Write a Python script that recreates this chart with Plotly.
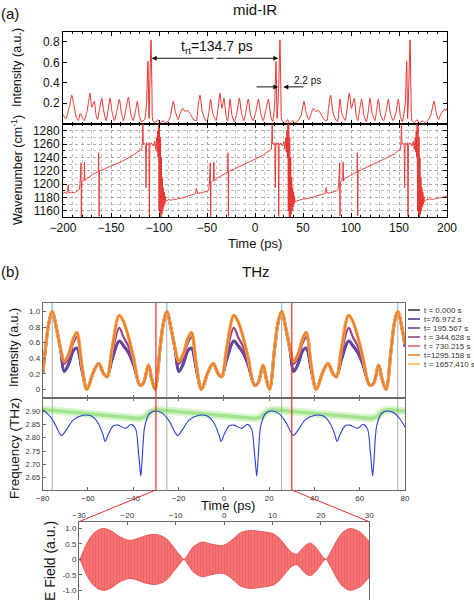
import plotly.graph_objects as go

# %% data

# (a) mid-IR intensity vs time (ps)
ir_t = [-200, -197, -193, -191, -189, -186, -184, -182, -180, -178, -175, -173, -171.9, -170,
        -167.4, -165.5, -164, -162, -159.7, -157.5, -155, -153, -151, -149, -146.5, -144,
        -141.3, -139, -137, -134.5, -131.9, -129.5, -127, -124.5, -122.6, -120.5, -118.5,
        -115, -113, -111.5, -110.4, -109.5, -108.3, -107.3, -106.5, -104, -101, -99, -96,
        -93, -90, -88, -85.1, -83, -80, -78, -75.3, -73, -70, -67, -64, -61, -59.5, -57.3,
        -55, -52, -50, -48, -46.2, -44, -40.5, -38.5, -36.5, -34.5, -32.3, -30, -28.5, -26,
        -24, -21.5, -19, -16.3, -14, -11.5, -9.5, -7, -4.5, -2, 1, 3.5, 6, 8.5, 11, 13.9,
        16.5, 18.5, 20.5, 21.9, 23, 24.8, 26, 27, 28, 31, 34, 36, 39, 42, 45, 48, 51, 53,
        56, 58.5, 60.8, 63, 66, 69, 72, 75, 76.5, 78.8, 81, 84, 86, 88.5, 90.5, 94, 96,
        98.3, 100.5, 103.5, 105.5, 107, 109, 111.1, 113.5, 116, 118, 119.8, 122, 125, 126.5,
        128.5, 131, 134, 136.5, 138.9, 141, 144, 147, 149.3, 151.5, 153.5, 156.5, 158, 159,
        160.3, 161.5, 162.5, 163.5, 166, 169, 171, 174, 177, 180, 183, 186.5, 188.5, 191,
        194, 197, 199, 200]
ir_int = [0.09, 0.05, 0.18, 0.28, 0.20, 0.06, 0.03, 0.10, 0.06, 0.03, 0.12, 0.24, 0.30, 0.16,
          0.22, 0.08, 0.04, 0.14, 0.25, 0.12, 0.03, 0.14, 0.25, 0.12, 0.03, 0.12,
          0.24, 0.10, 0.03, 0.14, 0.26, 0.10, 0.03, 0.12, 0.22, 0.08, 0.02,
          0.04, 0.20, 0.61, 0.05, 0.40, 0.82, 0.30, 0.03, 0.01, 0.04, 0.00, 0.03,
          0.01, 0.03, 0.08, 0.22, 0.12, 0.04, 0.10, 0.15, 0.12, 0.13, 0.09, 0.04, 0.03, 0.15, 0.28,
          0.12, 0.04, 0.02, 0.12, 0.24, 0.10, 0.03, 0.15, 0.30, 0.15, 0.25, 0.07, 0.03, 0.24,
          0.08, 0.02, 0.10, 0.25, 0.10, 0.03, 0.12, 0.24, 0.08, 0.03, 0.12, 0.24, 0.10, 0.03, 0.12, 0.24,
          0.07, 0.02, 0.20, 0.61, 0.05, 0.40, 0.82, 0.30, 0.03, 0.01, 0.04, 0.00, 0.03, 0.01, 0.03, 0.08, 0.22, 0.12,
          0.04, 0.10, 0.15, 0.12, 0.13, 0.09, 0.04, 0.03, 0.15, 0.28, 0.12, 0.04, 0.02, 0.24, 0.10, 0.03, 0.15,
          0.30, 0.15, 0.25, 0.07, 0.03, 0.14, 0.24, 0.08, 0.02, 0.12, 0.25, 0.10, 0.03, 0.12,
          0.24, 0.08, 0.03, 0.12, 0.24, 0.10, 0.03, 0.12, 0.24, 0.07, 0.02, 0.20, 0.61, 0.05,
          0.40, 0.82, 0.30, 0.03, 0.01, 0.04, 0.00, 0.03, 0.01, 0.03, 0.08, 0.22, 0.12, 0.04,
          0.10, 0.14, 0.13, 0.15]

# (a) instantaneous wavenumber (cm-1) vs time (ps)
wn_t = [-200, -198, -196, -194.5, -194, -191, -188, -185, -183, -182.3, -181.2, -180.9, -180.5,
        -178, -177.6, -177.2, -175, -172, -169, -166, -163.2, -162.8, -162.4, -162, -160, -157,
        -155, -152, -150, -147, -145, -142, -140, -137, -135, -132, -130, -127, -125, -121, -118,
        -117.5, -116.8, -116.3, -115, -114, -113.5, -113, -112, -110.5, -110, -109.5, -108, -106,
        -104.5, -103.5, -102.5, -102, -101.5, -101, -100.5, -100, -99.5, -99, -98.5, -98, -97.5,
        -97, -96.5, -96, -95.5, -95, -94.5, -94, -93.5, -93,
        -90, -87, -85, -82, -80, -77, -75, -72, -70, -67, -65, -62, -61, -60, -57, -55, -52, -50,
        -48.3, -47.6, -46.5, -46.2, -45.8, -43.3, -42.9, -42.5, -40, -37, -34, -31, -28.5, -28.1,
        -27.7, -27.3, -25, -22, -20, -17, -15, -12, -10, -7, -5, -2, 0, 3, 5, 8, 10, 14, 17,
        17.2, 17.9, 18.4, 19.7, 20.7, 21.2, 21.7, 22.7, 24.2, 24.7, 25.2, 26.7, 28.7, 30.2, 31.2,
        32.2, 32.7, 33.2, 33.7, 34.2, 34.7, 35.2, 35.7, 36.2, 36.7, 37.2, 37.7, 38.2, 38.7, 39.2,
        39.7, 40.2, 40.7, 41.2, 41.7,
        45, 48, 50, 53, 55, 58, 60, 63, 65, 68, 70, 73, 74, 75, 78, 80, 83, 85,
        86.4, 87.1, 88.2, 88.5, 88.9, 91.4, 91.8, 92.2, 94, 97, 100, 103, 106.2, 106.6, 107, 107.4,
        110, 113, 115, 118, 120, 123, 125, 128, 130, 133, 135, 138, 140, 143, 145, 148, 151.5,
        151.9, 152.6, 153.1, 154.4, 155.4, 155.9, 156.4, 157.4, 158.9, 159.4, 159.9, 161.4, 163.4,
        164.9, 165.9, 166.9, 167.4, 167.9, 168.4, 168.9, 169.4, 169.9, 170.4, 170.9, 171.4, 171.9,
        172.4, 172.9, 173.4, 173.9, 174.4, 174.9, 175.4, 175.9, 176.4,
        179, 182, 185, 188, 191, 194, 197, 200]
wn_v = [1186, 1188, 1186, 1199, 1187, 1188, 1187, 1190, 1192, 1200, 1232, 1151, 1203,
        1206, 1233, 1205, 1209, 1211, 1215, 1217, 1219, 1247, 1152, 1220, 1221, 1223,
        1224, 1226, 1227, 1229, 1230, 1232, 1233, 1236, 1237, 1239, 1241, 1243, 1245, 1249, 1252,
        1258, 1290, 1260, 1261, 1258, 1195, 1262, 1259, 1262, 1152, 1258, 1262, 1257,
        1264, 1252, 1270, 1248, 1280, 1240, 1290, 1160, 1290, 1151, 1270, 1151, 1240,
        1155, 1210, 1160, 1195, 1166, 1188, 1170, 1182, 1174,
        1177, 1176, 1178, 1177, 1179, 1179, 1180, 1181, 1182, 1183, 1184, 1186, 1194, 1186, 1187, 1187, 1189, 1189,
        1192, 1200, 1232, 1151, 1203, 1206, 1233, 1205, 1209, 1211, 1214, 1216, 1218, 1247,
        1152, 1219, 1221, 1222, 1224, 1226, 1227, 1229, 1231, 1233, 1234, 1236, 1237, 1239, 1241, 1243, 1245, 1249, 1252,
        1258, 1290, 1260, 1261, 1258, 1195, 1262, 1259, 1262, 1152, 1258, 1262, 1257, 1264, 1252,
        1270, 1248, 1280, 1240, 1290, 1160, 1290, 1151, 1270, 1151, 1240, 1155, 1210, 1160, 1195,
        1166, 1188, 1170, 1182, 1174,
        1176, 1177, 1178, 1178, 1179, 1180, 1180, 1182, 1183, 1184, 1185, 1186, 1195, 1187, 1187, 1188, 1189, 1190,
        1192, 1200, 1232, 1153, 1203, 1206, 1233, 1205, 1209, 1211, 1214, 1216, 1218, 1247, 1153, 1219,
        1221, 1223, 1224, 1226, 1227, 1229, 1231, 1233, 1234, 1236, 1238, 1240, 1242, 1244, 1245, 1249, 1252,
        1258, 1290, 1260, 1261, 1258, 1195, 1262, 1259, 1262, 1152, 1258, 1262, 1257,
        1264, 1252, 1270, 1248, 1280, 1240, 1290, 1160, 1290, 1151, 1270, 1151, 1240,
        1155, 1210, 1160, 1195, 1166, 1188, 1170, 1182, 1174,
        1177, 1178, 1177, 1179, 1179, 1180, 1181, 1182]

# (b) THz intensity, three groups of nearly identical curves
thz_t = [-80, -78.8, -77.3, -75.8,
         -73.7, -72.0, -70.5, -68.6, -66.4, -64.9, -62.7, -60.5, -57.6, -55.3, -53.1, -51.6, -49.4,
         -46.2, -44.3, -42.1, -39.9, -37.0, -35.5, -33.3, -31.9, -30.4, -28.2, -26.7, -25.2,
         -23.1, -21.4, -19.9, -18.0, -15.8, -14.3, -12.1, -9.9, -7.0, -4.7, -2.5, -1.0, 1.2,
         4.4, 6.3, 8.5, 10.7, 13.6, 15.1, 17.3, 18.7, 20.2, 22.4, 23.9, 25.5,
         27.6, 29.3, 30.8, 32.7, 34.9, 36.4, 38.6, 40.8, 43.7, 46.0, 48.2, 49.7, 51.9,
         55.1, 57.0, 59.2, 61.4, 64.5, 66.2, 68.3, 69.8, 71.6, 73.9, 75.3, 76.8,
         78.9, 80]
thz_high = [0.20, 0.52, 0.85, 1.0,
            0.75, 0.51, 0.36, 0.45, 0.66, 0.73, 0.31, 0.0, 0.22, 0.33, 0.20, 0.16, 0.52,
            0.95, 0.87, 0.67, 0.41, 0.05, 0.08, 0.31, 0.14, 0.0, 0.52, 0.85, 1.0,
            0.75, 0.51, 0.36, 0.45, 0.66, 0.73, 0.31, 0.0, 0.22, 0.33, 0.20, 0.16, 0.52,
            0.95, 0.87, 0.67, 0.41, 0.05, 0.08, 0.31, 0.14, 0.0, 0.52, 0.85, 1.0,
            0.75, 0.51, 0.36, 0.45, 0.66, 0.73, 0.31, 0.0, 0.22, 0.33, 0.20, 0.16, 0.52,
            0.95, 0.87, 0.67, 0.41, 0.05, 0.08, 0.31, 0.14, 0.0, 0.52, 0.85, 1.0,
            0.75, 0.58]
thz_mid = [0.20, 0.52, 0.85, 1.0,
           0.75, 0.51, 0.33, 0.40, 0.60, 0.67, 0.29, 0.0, 0.22, 0.33, 0.20, 0.16, 0.45,
           0.79, 0.67, 0.55, 0.36, 0.05, 0.08, 0.31, 0.14, 0.0, 0.52, 0.85, 1.0,
           0.75, 0.51, 0.33, 0.40, 0.60, 0.67, 0.29, 0.0, 0.22, 0.33, 0.20, 0.16, 0.45,
           0.79, 0.67, 0.55, 0.36, 0.05, 0.08, 0.31, 0.14, 0.0, 0.52, 0.85, 1.0,
           0.75, 0.51, 0.33, 0.40, 0.60, 0.67, 0.29, 0.0, 0.22, 0.33, 0.20, 0.16, 0.45,
           0.79, 0.67, 0.55, 0.36, 0.05, 0.08, 0.31, 0.14, 0.0, 0.52, 0.85, 1.0,
           0.75, 0.57]
thz_low = [0.20, 0.52, 0.85, 1.0,
           0.75, 0.49, 0.23, 0.32, 0.50, 0.53, 0.25, 0.0, 0.22, 0.33, 0.20, 0.16, 0.38,
           0.62, 0.56, 0.47, 0.32, 0.05, 0.08, 0.31, 0.14, 0.0, 0.52, 0.85, 1.0,
           0.75, 0.49, 0.23, 0.32, 0.50, 0.53, 0.25, 0.0, 0.22, 0.33, 0.20, 0.16, 0.38,
           0.62, 0.56, 0.47, 0.32, 0.05, 0.08, 0.31, 0.14, 0.0, 0.52, 0.85, 1.0,
           0.75, 0.49, 0.23, 0.32, 0.50, 0.53, 0.25, 0.0, 0.22, 0.33, 0.20, 0.16, 0.38,
           0.62, 0.56, 0.47, 0.32, 0.05, 0.08, 0.31, 0.14, 0.0, 0.52, 0.85, 1.0,
           0.75, 0.55]

thz_labels = ["t = 0.000 s", "t=76.972 s", "t= 195.567 s", "t = 344.628 s",
              "t = 730.215 s", "t=1295.158 s", "t = 1657.410 s"]
thz_colors = ["#3b3b4c", "#443c8e", "#6e45a2", "#9b3f8b", "#e0607c", "#ee7d34", "#f6b94b"]
thz_series = ["low", "low", "low", "mid", "high", "high", "high"]

# (b) instantaneous frequency (THz)
fr_t = [-80, -78.3, -75.3, -73.1, -71.7, -69.4, -66.6, -62.2, -58.5, -55.6, -53.3, -52.4,
        -51.1, -48.9, -46.7, -43.3, -40.8, -38.9, -37.7, -37.1, -36.7, -36.3, -35.9, -34.9,
        -32.7, -30.2, -27.5,
        -24.1, -21.9, -20.5, -18.2, -15.4, -11.0, -7.3, -4.4, -2.1, -1.2, 0.1, 2.3, 4.5, 7.9,
        10.4, 12.3, 13.5, 14.1, 14.5, 14.9, 15.3, 16.3, 18.5, 21.0, 23.7,
        27.1, 29.3, 30.7, 33.0, 35.8, 40.2, 43.9, 46.8, 49.1, 50.0, 51.3, 53.5, 55.7, 59.1,
        61.6, 63.5, 64.7, 65.3, 65.7, 66.1, 66.5, 67.5, 69.7, 72.2, 74.9, 77.9, 80]
fr_v = [2.904, 2.894, 2.862, 2.825, 2.808, 2.831, 2.866, 2.884, 2.881, 2.856, 2.809, 2.786,
        2.812, 2.844, 2.847, 2.835, 2.850, 2.831, 2.744, 2.690, 2.656, 2.690, 2.744, 2.844,
        2.891, 2.900, 2.894,
        2.862, 2.825, 2.808, 2.831, 2.866, 2.884, 2.881, 2.856, 2.809, 2.786, 2.812, 2.844, 2.847, 2.835,
        2.850, 2.831, 2.744, 2.690, 2.656, 2.690, 2.744, 2.844, 2.891, 2.900, 2.894,
        2.862, 2.825, 2.808, 2.831, 2.866, 2.884, 2.881, 2.856, 2.809, 2.786, 2.812, 2.844, 2.847, 2.835,
        2.850, 2.831, 2.744, 2.690, 2.656, 2.690, 2.744, 2.844, 2.891, 2.900, 2.894, 2.869, 2.839]

# (b) green reference band
gr_t = [-80, -37.5, -35, -32, -30, 14, 16.5, 19.5, 21.5, 65, 67.5, 70.5, 72.5, 80]
gr_v = [2.906, 2.872, 2.878, 2.900, 2.905, 2.872, 2.878, 2.900, 2.905, 2.872, 2.878, 2.900, 2.905, 2.899]

# (b) pulse peaks (gray markers) and zoom window
peak_t = [-75.8, -25.2, 25.5, 76.8]
zoom_t = [-30, 30]

# (b) E field envelope, zoomed window
ef_t = [-30, -29.8, -28.4, -27.0, -25.7, -24.6, -23.2, -21.5, -19.5, -18.1, -16.0, -13.9, -11.9,
        -10.5, -9.1, -8.3, -7.4, -6.4, -4.6, -2.9, -0.2, 1.9, 3.3, 5.3, 7.4, 10.2, 11.5, 12.9,
        14.0, 15.0, 16.0, 17.0, 17.9, 19.1, 20.3, 21.0, 22.2, 23.3, 24.6, 26.0, 28.1, 29.8, 30]
ef_up = [0.0, 0.02, 0.51, 0.83, 0.97, 0.99, 0.90, 0.72, 0.61, 0.66, 0.77, 0.80, 0.66,
         0.40, 0.13, 0.0, 0.18, 0.40, 0.56, 0.50, 0.45, 0.66, 0.85, 0.93, 0.90, 0.82, 0.66, 0.40,
         0.22, 0.17, 0.32, 0.48, 0.52, 0.36, 0.10, 0.0, 0.29, 0.61, 0.88, 0.99, 0.88, 0.61, 0.58]
ef_dn = [0.0, -0.02, -0.51, -0.83, -0.97, -0.99, -0.90, -0.72, -0.61, -0.66, -0.77, -0.80, -0.66,
         -0.40, -0.13, 0.0, -0.18, -0.40, -0.56, -0.50, -0.45, -0.66, -0.85, -0.93, -0.90, -0.82, -0.66, -0.40,
         -0.22, -0.17, -0.32, -0.48, -0.52, -0.36, -0.10, 0.0, -0.29, -0.61, -0.88, -0.99, -0.88, -0.61, -0.58]

# %% layout helpers (pixel -> paper)
W, H = 474, 600


def px(x):
    return x / W


def py(y):
    return 1 - y / H


RED = "#e8302c"
FONT = "Liberation Sans, Arial, sans-serif"

fig = go.Figure()

# (a) traces
fig.add_trace(go.Scatter(x=ir_t, y=ir_int, mode="lines", xaxis="x", yaxis="y",
                         line=dict(color=RED, width=1.0, shape="spline", smoothing=0.5)))
fig.add_trace(go.Scatter(x=wn_t, y=wn_v, mode="lines", xaxis="x2", yaxis="y2",
                         line=dict(color=RED, width=0.9)))

# (b) THz intensity traces
groups = {"low": thz_low, "mid": thz_mid, "high": thz_high}
draw_order = [0, 1, 2, 3, 4, 6, 5]
widths = {0: 2.2, 1: 3.0, 2: 2.2, 3: 2.2, 4: 2.8, 6: 3.2, 5: 2.0}
for i in draw_order:
    fig.add_trace(go.Scatter(x=thz_t, y=groups[thz_series[i]], mode="lines",
                             xaxis="x3", yaxis="y3", name=thz_labels[i],
                             line=dict(color=thz_colors[i], width=widths[i],
                                       shape="spline", smoothing=1.0)))

# (b) frequency traces
fig.add_trace(go.Scatter(x=gr_t, y=gr_v, mode="lines", xaxis="x4", yaxis="y4",
                         line=dict(color="rgba(140,225,110,0.35)", width=8)))
fig.add_trace(go.Scatter(x=gr_t, y=gr_v, mode="lines", xaxis="x4", yaxis="y4",
                         line=dict(color="rgba(110,210,80,0.5)", width=3.5)))
fig.add_trace(go.Scatter(x=fr_t, y=fr_v, mode="lines", xaxis="x4", yaxis="y4",
                         line=dict(color="#2b3fd6", width=1.1, shape="spline", smoothing=0.8)))

# (b) E field (envelope filled with fine hatching for the carrier)
fig.add_trace(go.Scatter(x=ef_t + ef_t[::-1], y=ef_up + ef_dn[::-1], mode="lines",
                         xaxis="x5", yaxis="y5", fill="toself",
                         fillcolor="rgba(244,100,100,1)",
                         fillpattern=dict(shape="|", fgcolor="rgba(210,45,55,0.5)",
                                          bgcolor="rgba(246,115,115,1)", size=3, solidity=0.3),
                         line=dict(color="#e84848", width=0.8, shape="spline", smoothing=0.9)))

# %% axes
ax_a = dict(showline=True, linecolor="black", linewidth=1, ticks="inside", ticklen=4,
            tickcolor="black", mirror="allticks", zeroline=False, showgrid=False,
            automargin=False, tickfont=dict(size=12, color="#111"))
ax_b = dict(showline=True, linecolor="#6a6a6a", linewidth=1, ticks="inside", ticklen=3,
            tickcolor="#6a6a6a", mirror=True, zeroline=False, showgrid=False,
            automargin=False, tickfont=dict(size=8, color="#333"))
grid_a = dict(showgrid=True, gridcolor="#aaaaaa", griddash="dot", gridwidth=1)

fig.update_layout(
    width=W, height=H, margin=dict(l=0, r=0, t=0, b=0),
    paper_bgcolor="white", plot_bgcolor="white", showlegend=False,
    font=dict(family=FONT, color="#111"),
    xaxis=dict(ax_a, domain=[px(63), px(447)], anchor="y", range=[-200, 200], dtick=50,
               showticklabels=False,
               minor=dict(dtick=10, ticks="inside", ticklen=2, tickcolor="black")),
    yaxis=dict(ax_a, domain=[py(124), py(32)], anchor="x", range=[-0.003, 0.897],
               tickvals=[0.2, 0.4, 0.6, 0.8]),
    xaxis2=dict(ax_a, **grid_a, domain=[px(63), px(447)], anchor="y2", range=[-200, 200],
                dtick=50, minor=dict(dtick=10, ticks="inside", ticklen=2, tickcolor="black",
                                     showgrid=True, gridcolor="#c4c4c4", griddash="dot")),
    yaxis2=dict(ax_a, **grid_a, domain=[py(217), py(124)], anchor="x2", range=[1151, 1290],
                tickmode="linear", tick0=1160, dtick=20,
                minor=dict(dtick=10, ticks="inside", ticklen=2, tickcolor="black",
                           showgrid=True, gridcolor="#c4c4c4", griddash="dot")),
    xaxis3=dict(ax_b, domain=[px(42.7), px(405)], anchor="y3", range=[-80, 80], dtick=20,
                showticklabels=False),
    yaxis3=dict(ax_b, domain=[py(397.7), py(302.7)], anchor="x3", range=[-0.108, 1.113],
                tickvals=[0, 0.2, 0.4, 0.6, 0.8, 1.0],
                ticktext=["0", "0.2", "0.4", "0.6", "0.8", "1.0"]),
    xaxis4=dict(ax_b, domain=[px(42.7), px(405)], anchor="y4", range=[-80, 80], dtick=20,
                mirror="ticks"),
    yaxis4=dict(ax_b, domain=[py(490), py(397.7)], anchor="x4", range=[2.6037, 2.9499],
                tickvals=[2.65, 2.70, 2.75, 2.80, 2.85, 2.90],
                ticktext=["2.65", "2.70", "2.75", "2.80", "2.85", "2.90"],
                tickfont=dict(size=7.5, color="#333")),
    xaxis5=dict(ax_b, domain=[px(79), px(369.3)], anchor="y5", range=[-30, 30], dtick=10,
                side="top", ticklabelstandoff=0),
    yaxis5=dict(ax_b, domain=[0, py(521.7)], anchor="x5", range=[-1.303, 1.21],
                tickvals=[-1, -0.5, 0, 0.5, 1],
                ticktext=["-1.0", "-0.5", "0", "0.5", "1.0"]),
)

# %% shapes: peak markers, zoom window, legend samples
shapes = []
for t in peak_t:
    shapes.append(dict(type="line", xref="x3", yref="paper", x0=t, x1=t,
                       y0=py(490), y1=py(302.7), layer="below",
                       line=dict(color="rgba(150,150,150,0.8)", width=1)))
    shapes.append(dict(type="line", xref="x3", yref="y3", x0=t, x1=t, y0=1.0, y1=1.113,
                       layer="below", line=dict(color="#9cc4e4", width=1)))
for t in zoom_t:
    shapes.append(dict(type="line", xref="x3", yref="paper", x0=t, x1=t,
                       y0=py(490), y1=py(302.7), line=dict(color=RED, width=1.2)))
# connectors from the zoom window to the E field panel
shapes.append(dict(type="line", xref="paper", yref="paper", x0=px(155.9), y0=py(490),
                   x1=px(79), y1=py(521.7), line=dict(color=RED, width=1)))
shapes.append(dict(type="line", xref="paper", yref="paper", x0=px(291.8), y0=py(490),
                   x1=px(369.3), y1=py(521.7), line=dict(color=RED, width=1)))
for i, lab in enumerate(thz_labels):
    yy = py(310 + 9 * i)
    shapes.append(dict(type="line", xref="paper", yref="paper", x0=px(408), x1=px(420),
                       y0=yy, y1=yy, line=dict(color=thz_colors[i], width=1.6)))
fig.update_layout(shapes=shapes)

# %% annotations
ann = []


def label(text, x, y, size, angle=0, color="#111", xanchor="center"):
    ann.append(dict(text=text, x=px(x), y=py(y), xref="paper", yref="paper",
                    showarrow=False, textangle=angle, xanchor=xanchor, yanchor="middle",
                    font=dict(size=size, color=color, family=FONT)))


label("(a)", 10, 14, 15)
label("mid-IR", 255, 9, 15)
label("Intensity (a.u.)", 17, 68, 12.5, -90)
label("Wavenumber (cm<sup>-1</sup>)", 17, 170, 12.5, -90)
label("Time (ps)", 255, 243, 13)
label("(b)", 10, 271, 15)
label("THz", 256, 271, 15)
label("Intensity (a.u.)", 14, 348, 12.5, -90)
label("Frequency (THz)", 14, 449, 13.5, -90)
label("Time (ps)", 228, 505, 13)
label("E Field (a.u.)", 50, 561, 14, -90)
for i, lab in enumerate(thz_labels):
    label(lab, 422, 310 + 9 * i, 8, color="#333", xanchor="left")

# round-trip time and pulse width markers in panel (a)
ann.append(dict(text="t<sub>rt</sub>=134.7 ps", x=-39.6, y=0.755, xref="x", yref="y",
                showarrow=False, font=dict(size=14, family=FONT, color="#111")))
for tip, tail in [(-107.6, -41.6), (24.3, -41.6)]:
    ann.append(dict(text="", x=tip, y=0.64, ax=tail, ay=0.64, xref="x", yref="y",
                    axref="x", ayref="y", showarrow=True, arrowhead=2, arrowsize=1,
                    arrowwidth=1, arrowcolor="#111"))
ann.append(dict(text="2.2 ps", x=55.2, y=0.42, xref="x", yref="y", showarrow=False,
                font=dict(size=10, family=FONT, color="#111")))
for tip, tail in [(24.3, 0.0), (29.5, 52.1)]:
    ann.append(dict(text="", x=tip, y=0.36, ax=tail, ay=0.36, xref="x", yref="y",
                    axref="x", ayref="y", showarrow=True, arrowhead=2, arrowsize=1,
                    arrowwidth=1, arrowcolor="#111"))
fig.update_layout(annotations=ann)

# the page's default body margin would push the fixed-size figure off the window
fig.write_html("out.html", config={"displayModeBar": False},
               post_script="document.body.style.margin = '0';")
